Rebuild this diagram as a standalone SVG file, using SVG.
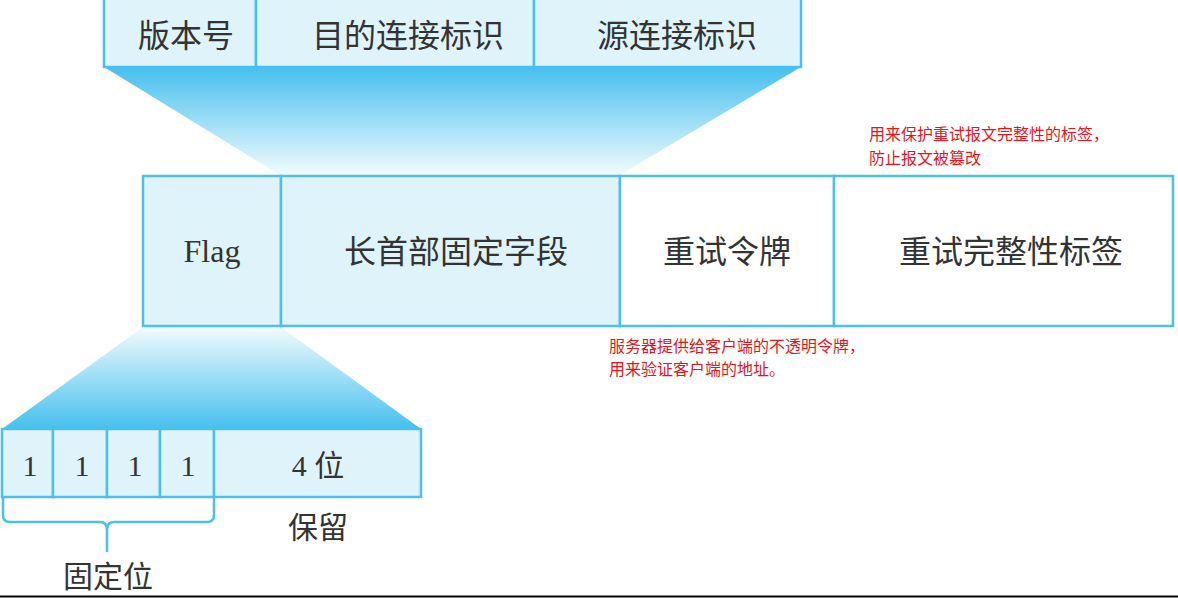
<svg xmlns="http://www.w3.org/2000/svg" width="1178" height="598" viewBox="0 0 1178 598">
<defs>
<linearGradient id="gDown" x1="0" y1="0" x2="0" y2="1"><stop offset="0" stop-color="#45c0ee"/><stop offset="1" stop-color="#f2fbfe"/></linearGradient>
<linearGradient id="gUp" x1="0" y1="0" x2="0" y2="1"><stop offset="0" stop-color="#f2fbfe"/><stop offset="1" stop-color="#45c0ee"/></linearGradient>
</defs>
<style>
.c{fill:#dff3fb;stroke:#4cc0ea;stroke-width:2.5}
.w{fill:#ffffff;stroke:#4cc0ea;stroke-width:2.5}
.t{font-family:"Liberation Serif","Noto Sans CJK SC",serif;fill:#333;text-anchor:middle}
.r{font-family:"Noto Sans CJK SC",sans-serif;fill:#e8141c;font-size:16px}
</style>
<rect width="1178" height="598" fill="#fff"/>
<g id="funnels">
<polygon points="104,67 801,67 620,175 280,175" fill="url(#gDown)"/>
<polygon points="143,327 281,327 421,429 2,429" fill="url(#gUp)"/>
</g>
<g id="top-row">
<rect class="c" x="104" y="-3" width="152" height="70"/>
<rect class="c" x="256" y="-3" width="278" height="70"/>
<rect class="c" x="534" y="-3" width="267" height="70"/>
<text class="t" x="186" y="47" font-size="32">版本号</text>
<text class="t" x="408" y="47" font-size="32">目的连接标识</text>
<text class="t" x="677" y="47" font-size="32">源连接标识</text>
</g>
<g id="mid-row">
<rect class="c" x="143" y="176" width="138" height="150"/>
<rect class="c" x="281" y="176" width="339" height="150"/>
<rect class="w" x="620" y="176" width="214" height="150"/>
<rect class="w" x="834" y="176" width="339" height="150"/>
<text class="t" x="212" y="262" font-size="32">Flag</text>
<text class="t" x="456" y="263" font-size="32">长首部固定字段</text>
<text class="t" x="727" y="263" font-size="32">重试令牌</text>
<text class="t" x="1011" y="263" font-size="32">重试完整性标签</text>
</g>
<g id="bits">
<rect class="c" x="2" y="429" width="51" height="68"/>
<rect class="c" x="53" y="429" width="54" height="68"/>
<rect class="c" x="107" y="429" width="53" height="68"/>
<rect class="c" x="160" y="429" width="54" height="68"/>
<rect class="c" x="214" y="429" width="207" height="68"/>
<text class="t" x="30" y="476" font-size="30">1</text>
<text class="t" x="82" y="476" font-size="30">1</text>
<text class="t" x="135" y="476" font-size="30">1</text>
<text class="t" x="188" y="476" font-size="30">1</text>
<text class="t" x="318" y="476" font-size="30">4 位</text>
</g>
<g id="connectors">
<path d="M3,497 V515 Q3,522 10,522 H100 Q107,522 107,530 V552 M107,530 Q107,522 114,522 H207 Q214,522 214,515 V497" fill="none" stroke="#4cc0ea" stroke-width="2.5"/>
</g>
<g id="labels">
<text class="t" x="318" y="538" font-size="30">保留</text>
<text class="t" x="108" y="587" font-size="30">固定位</text>
<text class="r" x="869" y="140">用来保护重试报文完整性的标签，</text>
<text class="r" x="869" y="164">防止报文被篡改</text>
<text class="r" x="609" y="352">服务器提供给客户端的不透明令牌，</text>
<text class="r" x="609" y="375">用来验证客户端的地址。</text>
</g>
<line x1="0" y1="596.5" x2="1178" y2="596.5" stroke="#000" stroke-width="2"/>
</svg>
